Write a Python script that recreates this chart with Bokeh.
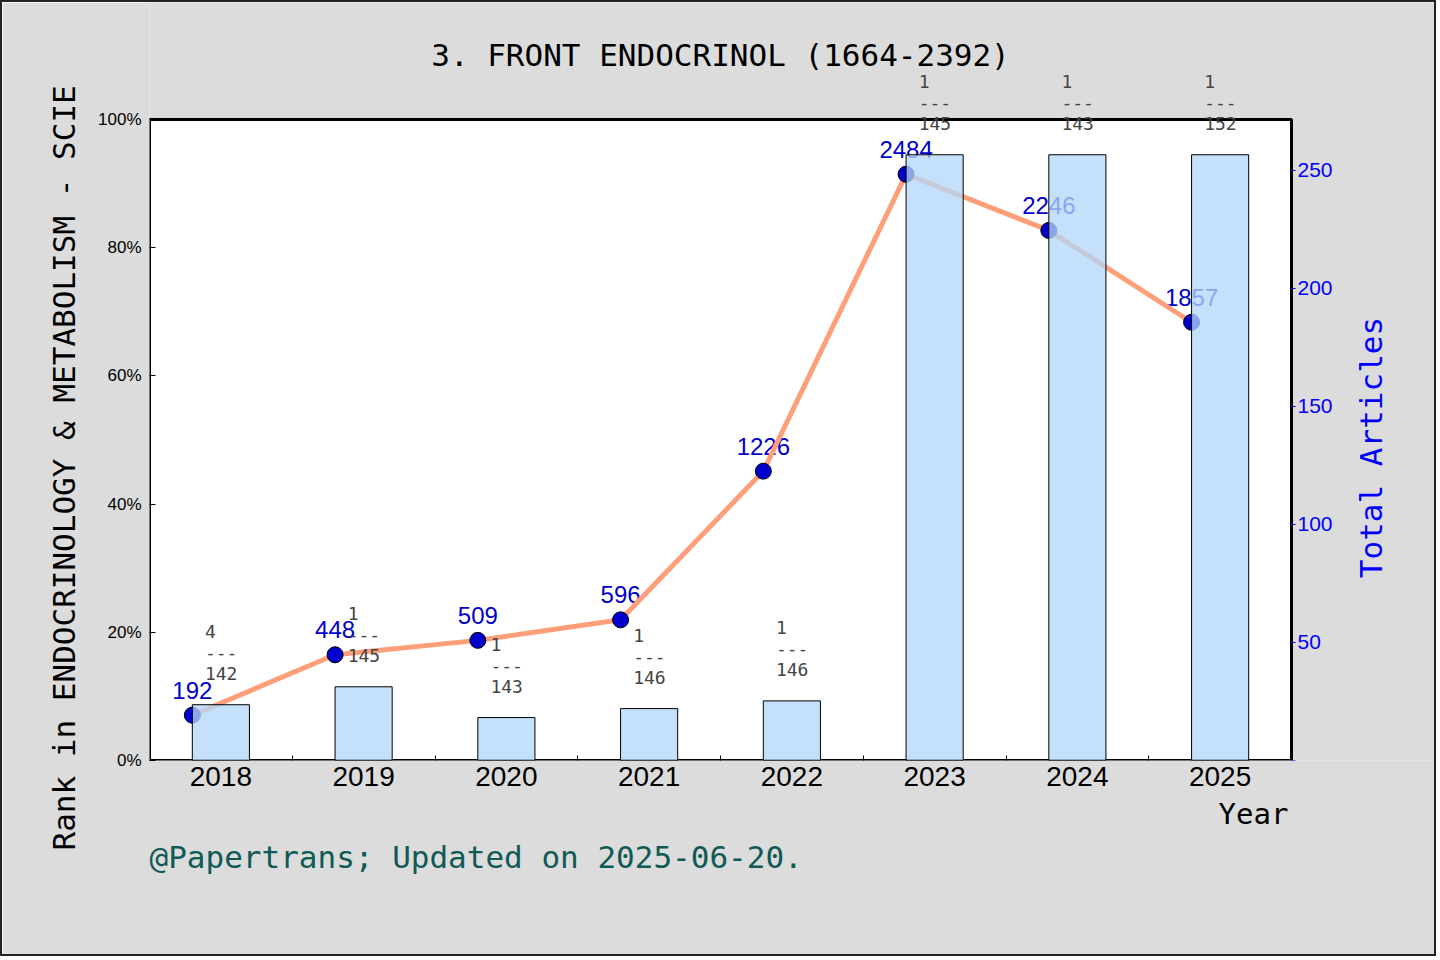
import math
from bokeh.plotting import figure
from bokeh.models import (ColumnDataSource, Range1d, FixedTicker,
                          Title, CustomJSTickFormatter)
from bokeh.transform import dodge
from bokeh.core.properties import value
from bokeh.embed import file_html
from bokeh.resources import INLINE

# ---------------- data ----------------
years = [2018, 2019, 2020, 2021, 2022, 2023, 2024, 2025]
bar_pct = [0.087, 0.115, 0.067, 0.081, 0.093, 0.945, 0.945, 0.945]
rank = [4, 1, 1, 1, 1, 1, 1, 1]
rank_total = [142, 145, 143, 146, 146, 145, 143, 152]
citations = [192, 448, 509, 596, 1226, 2484, 2246, 1857]
left_ticks = [0, 0.2, 0.4, 0.6, 0.8, 1.0]
right_ticks = [0, 50, 100, 150, 200, 250]
right_tick_labels = ["", "50", "100", "150", "200", "250"]

title_text = "3. FRONT ENDOCRINOL (1664-2392)"
ylabel_text = "Rank in ENDOCRINOLOGY & METABOLISM - SCIE"
y2label_text = "Total Articles"
xlabel_text = "Year"
footer_text = "@Papertrans; Updated on 2025-06-20."

src = ColumnDataSource(dict(
    year=years,
    bar=bar_pct,
    rank=[str(r) for r in rank],
    dash=["---"] * len(years),
    total=[str(t) for t in rank_total],
    cit_val=[c / 10 for c in citations],
    cit_txt=[str(c) for c in citations],
))
rsrc = ColumnDataSource(dict(tick=right_ticks, label=right_tick_labels))

MONO = "DejaVu Sans Mono"
SANS = "Liberation Sans"
BG = "#dcdcdc"

W, H = 1436, 956
LEFT, BOTTOM_Y = 147, 758          # frame left edge / y of value 0 (canvas px)
BOX_W, BOX_H = 1142, 641          # white plotting box in px
X0, X1 = 2017.5, 2025.5
PX_X = BOX_W / (X1 - X0)
X_END = X0 + (W - LEFT) / PX_X     # frame reaches the right edge of the canvas
Y_TOP = BOTTOM_Y / BOX_H           # frame reaches the top of the canvas
R_MAX = 271.6                      # right-axis value at the top of the box

p = figure(width=W, height=H, output_backend="svg", toolbar_location=None,
           x_range=Range1d(X0, X_END), y_range=Range1d(0, Y_TOP),
           min_border_left=LEFT, min_border_right=0, min_border_top=0,
           min_border_bottom=H - BOTTOM_Y)
p.styles = {"border": "2px solid #222"}
p.background_fill_color = BG
p.border_fill_color = BG
p.outline_line_color = None
p.grid.visible = False

p.extra_y_ranges = {"art": Range1d(0, R_MAX * Y_TOP)}

# white plotting box with thick frame
p.quad(left=[X0], right=[X1], bottom=[0], top=[1.0], fill_color="white",
       line_color="black", line_width=3)

# x axis
xa = p.xaxis[0]
xa.ticker = FixedTicker(ticks=years, minor_ticks=[y + 0.5 for y in years[:-1]])
xa.major_tick_in = 0
xa.major_tick_out = 0
xa.minor_tick_in = 5
xa.minor_tick_out = 0
xa.minor_tick_line_color = "black"
xa.axis_line_color = None
xa.major_label_text_font = SANS
xa.major_label_text_font_size = "28px"
xa.major_label_text_color = "black"
xa.major_label_standoff = 6

# left axis
ya = p.yaxis[0]
ya.ticker = FixedTicker(ticks=left_ticks, minor_ticks=[])
ya.formatter = CustomJSTickFormatter(code="return Math.round(tick*100) + '%';")
ya.major_tick_in = 6
ya.major_tick_out = 0
ya.major_tick_line_color = "black"
ya.axis_line_color = None
ya.major_label_text_font = SANS
ya.major_label_text_font_size = "17px"
ya.major_label_text_color = "black"
ya.major_label_standoff = 8

# right axis (Total Articles) on the right edge of the white box
p.ray(x=X1, y="tick", source=rsrc, y_range_name="art", length=4,
      length_units="screen", angle=0, line_color="blue", line_width=1)
p.text(x=X1, y="tick", text="label", source=rsrc, y_range_name="art",
       x_offset=6, text_align="left", text_baseline="middle",
       text_font=value(SANS), text_font_size="21px", text_color="blue")
p.text(x=[X0 + (1370 - 149) / PX_X], y=[(BOTTOM_Y - 445) / BOX_H],
       text=[y2label_text], angle=math.pi / 2, text_align="center",
       text_baseline="middle", text_font=value(MONO), text_font_size="31px",
       text_color="blue")

# value labels (under line)
p.text(x=dodge("year", -0.2, range=p.x_range), y="cit_val", text="cit_txt",
       source=src, y_range_name="art", text_align="center",
       text_baseline="alphabetic", y_offset=-25, text_color="#0000cc",
       text_font=value(SANS), text_font_size="24px")

# line + points
p.line(x=dodge("year", -0.2, range=p.x_range), y="cit_val", source=src,
       y_range_name="art", line_color="#ff9f7a", line_width=5)
p.scatter(x=dodge("year", -0.2, range=p.x_range), y="cit_val", source=src,
          y_range_name="art", size=16, fill_color="#0000cc",
          line_color="black", line_width=1)

# bars on top, semi-transparent
p.vbar(x="year", top="bar", bottom=0, width=0.4, source=src,
       fill_color="#b3d7f8", fill_alpha=0.77, line_color="black", line_width=1)

# rank labels (three lines above every bar)
for col, off in (("total", -31), ("dash", -52), ("rank", -73)):
    p.text(x="year", y="bar", text=col, source=src, x_offset=-16, y_offset=off,
           text_align="left", text_baseline="alphabetic",
           text_font=value(MONO), text_font_size="18px", text_color="#444444")

# chart title (inside the tall frame, above the white box)
p.text(x=[(X0 + X1) / 2], y=[(BOTTOM_Y - 52) / BOX_H], text=[title_text],
       text_align="center", text_baseline="alphabetic",
       text_font=value(MONO), text_font_size="31px", text_color="black")

# left axis title
p.add_layout(Title(text=ylabel_text, align="left", offset=-90,
                   text_font=MONO, text_font_size="31px",
                   text_font_style="normal", text_color="black",
                   standoff=28), "left")

# below: "Year" then footer
p.add_layout(Title(text=xlabel_text, align="left", offset=1216 - LEFT,
                   text_font=MONO, text_font_size="29px",
                   text_font_style="normal", text_color="black",
                   standoff=12), "below")
p.add_layout(Title(text=footer_text, align="left", text_font=MONO,
                   text_font_size="31px", text_font_style="normal",
                   text_color="#0f5a55", standoff=0), "below")

open("out.html", "w").write(file_html(p, INLINE))
